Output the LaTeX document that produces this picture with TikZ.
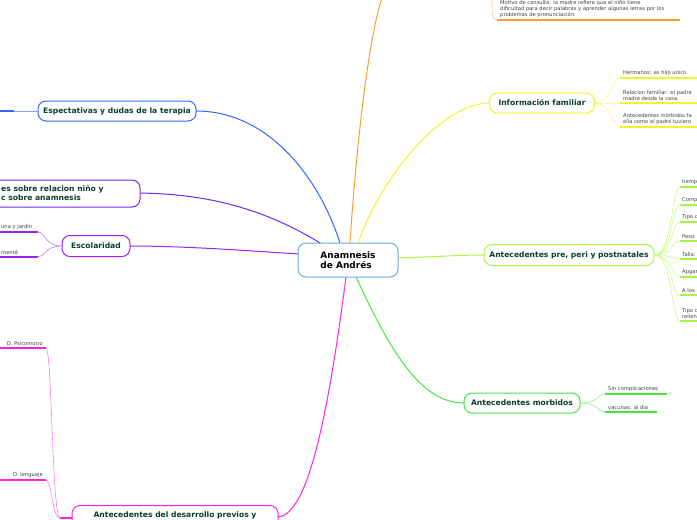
\documentclass[tikz,border=0pt]{standalone}
\usepackage{fontspec}
\setmainfont{DejaVu Sans}
\begin{document}
\begin{tikzpicture}[x=1pt,y=-1pt]
\definecolor{cblue}{HTML}{6FA8DC}
\definecolor{corange}{HTML}{F7A030}
\definecolor{cyellow}{HTML}{F2F230}
\definecolor{clime}{HTML}{A8F542}
\definecolor{cgreen}{HTML}{40E840}
\definecolor{cbl}{HTML}{3366FF}
\definecolor{cviolet}{HTML}{6A2CF5}
\definecolor{cpurple}{HTML}{A020F0}
\definecolor{cmag}{HTML}{FF20E0}
\definecolor{ctext}{HTML}{0B3D2E}
\tikzset{
 topic/.style={draw=#1, line width=1, rounded corners=8, fill=white, font=\fontsize{7.6}{9}\selectfont\bfseries, text=ctext, inner sep=3, align=center},
 leaf/.style={anchor=south west, font=\fontsize{5.2}{6.3}\selectfont, text=black!75, inner sep=1, align=left},
 conn/.style={draw=#1, line width=1},
 ul/.style={draw=#1, line width=1.6},
 thin/.style={draw=#1!60, line width=0.6}
}
\useasboundingbox (0,0) rectangle (697,520);
% center connectors
\coordinate (ot) at (382,-2);
\draw[conn=corange] (350,243) .. controls (356,150) and (368,40) .. (ot);
\draw[conn=cbl] (340,243) .. controls (320,180) and (270,111) .. (196,111);
\draw[conn=cviolet] (325,246) .. controls (260,205) and (200,194) .. (140,193);
\draw[conn=cpurple] (298,254) .. controls (240,250) and (180,246) .. (130,246);
\draw[conn=cmag] (346,277) .. controls (330,400) and (310,515) .. (278,517);
\draw[conn=cyellow] (358,243) .. controls (380,180) and (440,103) .. (490,103);
\draw[conn=clime] (398,258) .. controls (430,257) and (460,255) .. (484,255);
\draw[conn=cgreen] (356,277) .. controls (390,350) and (420,403) .. (464,403);

\node[topic=cblue, minimum width=100, minimum height=34, align=left, font=\fontsize{9}{10.5}\selectfont\bfseries, text=black] (c) at (348,260) {Anamnesis\\de Andrés};

% orange top
\coordinate (o1) at (497,20);
\draw[thin=corange] (492,0) .. controls (492,15) and (492,20) .. (o1);
\draw[ul=corange] (o1) -- (680,20);
\node[leaf, anchor=south west] (om) at (499,19) {Motivo de consulta: la madre refiere que el niño tiene\\dificultad para decir palabras y aprender algunas letras por los\\problemas de pronunciación.};

% yellow
\node[topic=cyellow, minimum width=105, minimum height=20] (fam) at (542,103) {Información familiar};
\foreach \y/\t [count=\i] in {78/{Hermanos: es hijo unico},103/{Relacion familiar: el padre\\madre desde la casa.},127/{Antecedentes mórbidos fa\\ella como el padre tuviero}}{
 \draw[thin=cyellow] (fam.east) .. controls (612,103) and (612,\y) .. (620,\y);
 \draw[ul=cyellow] (620,\y) -- (697,\y);
 \node[leaf] (f\i) at (622,\y-1) {\t};
}

% lime
\node[topic=clime, minimum width=170, minimum height=21] (pre) at (569,255) {Antecedentes pre, peri y postnatales};
\foreach \y/\t [count=\i] in {187/{tiemp},205/{Comp},222/{Tipo d},241/{Peso:},259/{Talla:},277/{Apgar},295/{A los},321/{Tipo d\\rellen}}{
 \draw[thin=clime] (pre.east) .. controls (672,255) and (672,\y) .. (680,\y);
 \draw[ul=clime] (680,\y) -- (697,\y);
 \node[leaf] (p\i) at (681,\y-1) {\t};
}

% green
\node[topic=cgreen, minimum width=116, minimum height=20] (mor) at (522,403) {Antecedentes morbidos};
\foreach \y/\e/\t [count=\i] in {394/667/{Sin complicaciones},412/657/{vacunas: al dia}}{
 \draw[thin=cgreen] (mor.east) .. controls (598,403) and (598,\y) .. (605,\y);
 \draw[ul=cgreen] (605,\y) -- (\e,\y);
 \node[leaf] (m\i) at (607,\y-1) {\t};
}

% blue
\node[topic=cbl, minimum width=158, minimum height=20] (esp) at (117,111) {Espectativas y dudas de la terapia};
\coordinate (b1) at (0,111);
\draw[ul=cbl] (b1) -- (14,111);
\draw[thin=cbl] (14,111) -- (esp.west);

% violet
\draw[draw=cviolet, line width=1, rounded corners=8, fill=white] (-20,180) rectangle (140,207);
\node[font=\fontsize{7.6}{9}\selectfont\bfseries, text=ctext, anchor=west, align=left, inner sep=0] (rel) at (1,193.5) {es sobre relacion niño y\\c sobre anamnesis};

% purple
\node[topic=cpurple, minimum width=68, minimum height=21] (esc) at (96,246) {Escolaridad};
\foreach \y/\t [count=\i] in {232/{una y jardín},257/{menté}}{
 \draw[thin=cpurple] (esc.west) .. controls (45,246) and (45,\y) .. (38,\y);
 \draw[ul=cpurple] (0,\y) -- (38,\y);
 \node[leaf] (e\i) at (0,\y-1) {\t};
}

% magenta
\node[topic=cmag, minimum width=206, minimum height=30, anchor=north, text depth=12pt] (des) at (175,505) {Antecedentes del desarrollo previos y};
\foreach \y/\t [count=\i] in {348/{D. Psicomotro},480/{D. lenguaje}}{
 \draw[thin=cmag] (60,518) .. controls (52,518) and (52,\y) .. (46,\y);
 \draw[ul=cmag] (0,\y) -- (46,\y);
 \node[leaf, anchor=south east] (d\i) at (44,\y-1) {\t};
}
\draw[ul=cmag] (60,518) -- (des.west |- 0,518);
\end{tikzpicture}
\end{document}
